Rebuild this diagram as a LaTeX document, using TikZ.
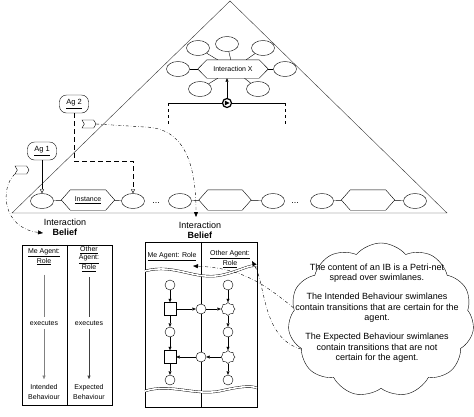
\documentclass[tikz,border=0pt]{standalone}
\usepackage{fontspec}
\setmainfont{Liberation Sans}
\usetikzlibrary{arrows.meta,positioning,shapes.geometric,shapes.symbols}
\tikzset{
  ell/.style   = {draw, ellipse, minimum width=23pt, minimum height=15pt, inner sep=0pt},
  hex/.style   = {minimum height=20pt, inner sep=1pt, font=\fontsize{7}{8}\selectfont,
                  append after command={\pgfextra{
                    \draw (\tikzlastnode.west) -- ([xshift=9pt]\tikzlastnode.north west)
                      -- ([xshift=-9pt]\tikzlastnode.north east) -- (\tikzlastnode.east)
                      -- ([xshift=-9pt]\tikzlastnode.south east)
                      -- ([xshift=9pt]\tikzlastnode.south west) -- cycle;}}},
  agent/.style = {draw, rounded corners=7pt, minimum width=29pt, minimum height=18pt,
                  inner sep=1pt, font=\fontsize{7.5}{8}\selectfont},
  flag/.style  = {draw, signal, signal to=east, signal from=west, signal pointer angle=120,
                  minimum width=14pt, minimum height=8pt, inner sep=0pt},
  plc/.style   = {draw, circle, fill=white, minimum size=10pt, inner sep=0pt},
  trn/.style   = {draw, fill=white, minimum width=12pt, minimum height=13pt, inner sep=0pt},
  ptr/.style   = {draw, cloud, cloud puffs=8, cloud ignores aspect, fill=white,
                  minimum width=14pt, minimum height=13pt, inner sep=0pt},
  lbl/.style   = {align=center, font=\fontsize{9}{10}\selectfont},
  hdr/.style   = {align=center, font=\fontsize{7}{8.5}\selectfont},
  colnote/.style = {align=center, font=\fontsize{7}{9.5}\selectfont},
  e/.style     = {-{Triangle[length=3.5pt,width=3pt]}},
  agarr/.style = {-{Triangle[open,length=4pt,width=4pt]}},
  link/.style  = {dash dot, -{Triangle[length=5pt,width=4pt]}},
}

\begin{document}
\begin{tikzpicture}[x=1pt,y=-1pt]
  \useasboundingbox (0,0) rectangle (474,416);
  % ---- interaction triangle ----
  \coordinate (apex) at (230,1);
  \coordinate (bl) at (12,213);
  \coordinate (br) at (447,213);
  \draw[black!80] (bl) -- (apex) -- (br) -- cycle;

  % ---- Interaction X with its beliefs ----
  \node[hex, minimum width=70pt, minimum height=18pt] (ix) at (233,69) {Interaction X};
  \node[ell] (x1) at (198,48) {};
  \node[ell] (x2) at (227,44) {};
  \node[ell] (x3) at (263,48) {};
  \node[ell] (x4) at (178,69) {};
  \node[ell] (x5) at (285,69) {};
  \node[ell] (x6) at (200,89) {};
  \node[ell] (x7) at (258,89) {};
  \foreach \n in {x1,x2,x3,x4,x5,x6,x7}
    \draw (\n) -- (ix);

  \node[draw, circle, line width=1.2pt, minimum size=9pt, inner sep=0pt] (orx) at (227,103) {};
  \fill (224.8,100.6) -- (229.6,103) -- (224.8,105.4) -- cycle;
  \draw[e] (orx) -- (orx |- ix.south);
  \coordinate (jl) at (168,126);
  \coordinate (jr) at (285,124);
  \draw (orx) -- (orx -| jl);
  \draw[dashed] (orx -| jl) -- (jl);
  \draw (orx) -- (orx -| jr);
  \draw[dashed] (orx -| jr) -- (jr);

  % ---- row of instances ----
  \node[ell] (r1) at (42,201) {};
  \node[hex, minimum width=53pt] (h1) at (88,200) {\underline{Instance}};
  \node[ell] (r2) at (133,201) {};
  \node[lbl] (dots1) at (156,203) {...};
  \node[ell] (r3) at (180,201) {};
  \node[hex, minimum width=52pt] (h2) at (225,200) {};
  \node[ell] (r4) at (273,201) {};
  \node[lbl] (dots2) at (295,203) {...};
  \node[ell] (r5) at (322,201) {};
  \node[hex, minimum width=53pt] (h3) at (368,200) {};
  \node[ell] (r6) at (415,201) {};
  \draw (r1) -- (h1) -- (r2);
  \draw (r3) -- (h2) -- (r4);
  \draw (r5) -- (h3) -- (r6);

  % ---- agents ----
  \node[agent] (ag1) at (42,151) {\underline{Ag 1}};
  \node[agent] (ag2) at (74,104) {\underline{Ag 2}};
  \draw[agarr] (ag1) -- (r1);
  \draw[agarr, dash pattern=on 5pt off 3pt] (ag2) -- ++(0,57) -| (r2);

  \node[flag] (f1) at (22,170) {};
  \node[flag] (f2) at (89,124) {};
  \node[lbl] (ib1) at (65,227) {Interaction\\\textbf{Belief}};
  \node[lbl] (ib2) at (200,230) {Interaction\\\textbf{Belief}};
  \coordinate (ib1in) at (43,233);
  \coordinate (ib2in) at (196,217);
  \draw[link] (f1.south west) .. controls (0,188) and (2,228) .. (ib1in);
  \draw[link] (f2.east) -- (145,127) .. controls (185,128) and (196,165) .. (ib2in);

  % ---- left: swimlanes ----
  \node[draw, minimum width=90pt, minimum height=160pt] (swl) at (67,325) {};
  \draw (swl.north) -- (swl.south);
  \node[hdr] (me1) at (44,257) {\underline{Me Agent:}\\\underline{Role}};
  \node[hdr] (ot1) at (89,259) {\underline{Other}\\\underline{Agent:}\\\underline{Role}};
  \node[colnote] (ex1) at (44,323) {executes};
  \node[colnote] (ex2) at (89,323) {executes};
  \node[colnote] (bh1) at (44,392) {Intended\\Behaviour};
  \node[colnote] (bh2) at (89,392) {Expected\\Behaviour};
  \draw[black!50, shorten <=6pt] (me1) -- (ex1);
  \draw[black!50, e, shorten >=2pt] (ex1) -- (bh1);
  \draw[black!75, line width=1pt, shorten <=2pt] (ot1) -- (ex2);
  \draw[black!75, line width=1pt, e, shorten >=2pt] (ex2) -- (bh2);

  % ---- right: Petri-net on swimlanes ----
  \node[draw, minimum width=112pt, minimum height=165pt] (swr) at (201,324.5) {};
  \draw (swr.north) -- (swr.south);
  \node[hdr] (me2) at (172,257) {\underline{Me Agent: Role}};
  \node[hdr] (ot2) at (230,259) {\underline{Other Agent:}\\\underline{Role}};
  \draw[double, double distance=1.6pt] (145,271) .. controls (175,263) and (195,281) .. (222,275)
    .. controls (240,271) and (250,264) .. (257,266);
  \draw[double, double distance=1.6pt] (145,391) .. controls (170,383) and (195,396) .. (220,391)
    .. controls (238,387) and (250,385) .. (257,388);

  \node[plc] (p1) at (170,285) {};
  \node[trn] (t1) at (170,309) {};
  \node[plc] (p2) at (170,332) {};
  \node[trn] (t2) at (170,357) {};
  \node[plc] (p3) at (170,380) {};
  \node[plc] (p4) at (201,309) {};
  \node[plc] (p5) at (201,357) {};
  \node[plc] (p6) at (228,285) {};
  \node[ptr] (c1) at (228,309) {};
  \node[plc] (p7) at (228,332) {};
  \node[ptr] (c2) at (228,357) {};
  \node[plc] (p8) at (228,380) {};
  \foreach \a/\b in {p1/t1,t1/p2,p2/t2,t2/p3,t1/p4,p4/c1,p6/c1,c1/p7,p7/c2,c2/p8,c2/p5,p5/t2}
    \draw[e] (\a) -- (\b);

  % ---- note ----
  \node[draw, cloud, cloud puffs=11, cloud puff arc=100, cloud ignores aspect,
        minimum width=186pt, minimum height=154pt] (note) at (381,320) {};
  \node[align=center, font=\fontsize{9}{10.3}\selectfont] (notetxt) at (377,313)
    {The content of an IB is a Petri-net\\spread over swimlanes.\\[9pt]
     The Intended Behaviour swimlanes\\contain transitions that are certain for the\\agent.\\[9pt]
     The Expected Behaviour swimlanes\\contain transitions that are not\\certain for the agent.};
  \coordinate (tipme) at (193,266);
  \coordinate (tipot) at (252,261);
  \draw[link] (note.172) .. controls (262,282) and (240,268) .. (tipme);
  \draw[link] (note.200) .. controls (262,338) and (266,285) .. (tipot);
\end{tikzpicture}
\end{document}
